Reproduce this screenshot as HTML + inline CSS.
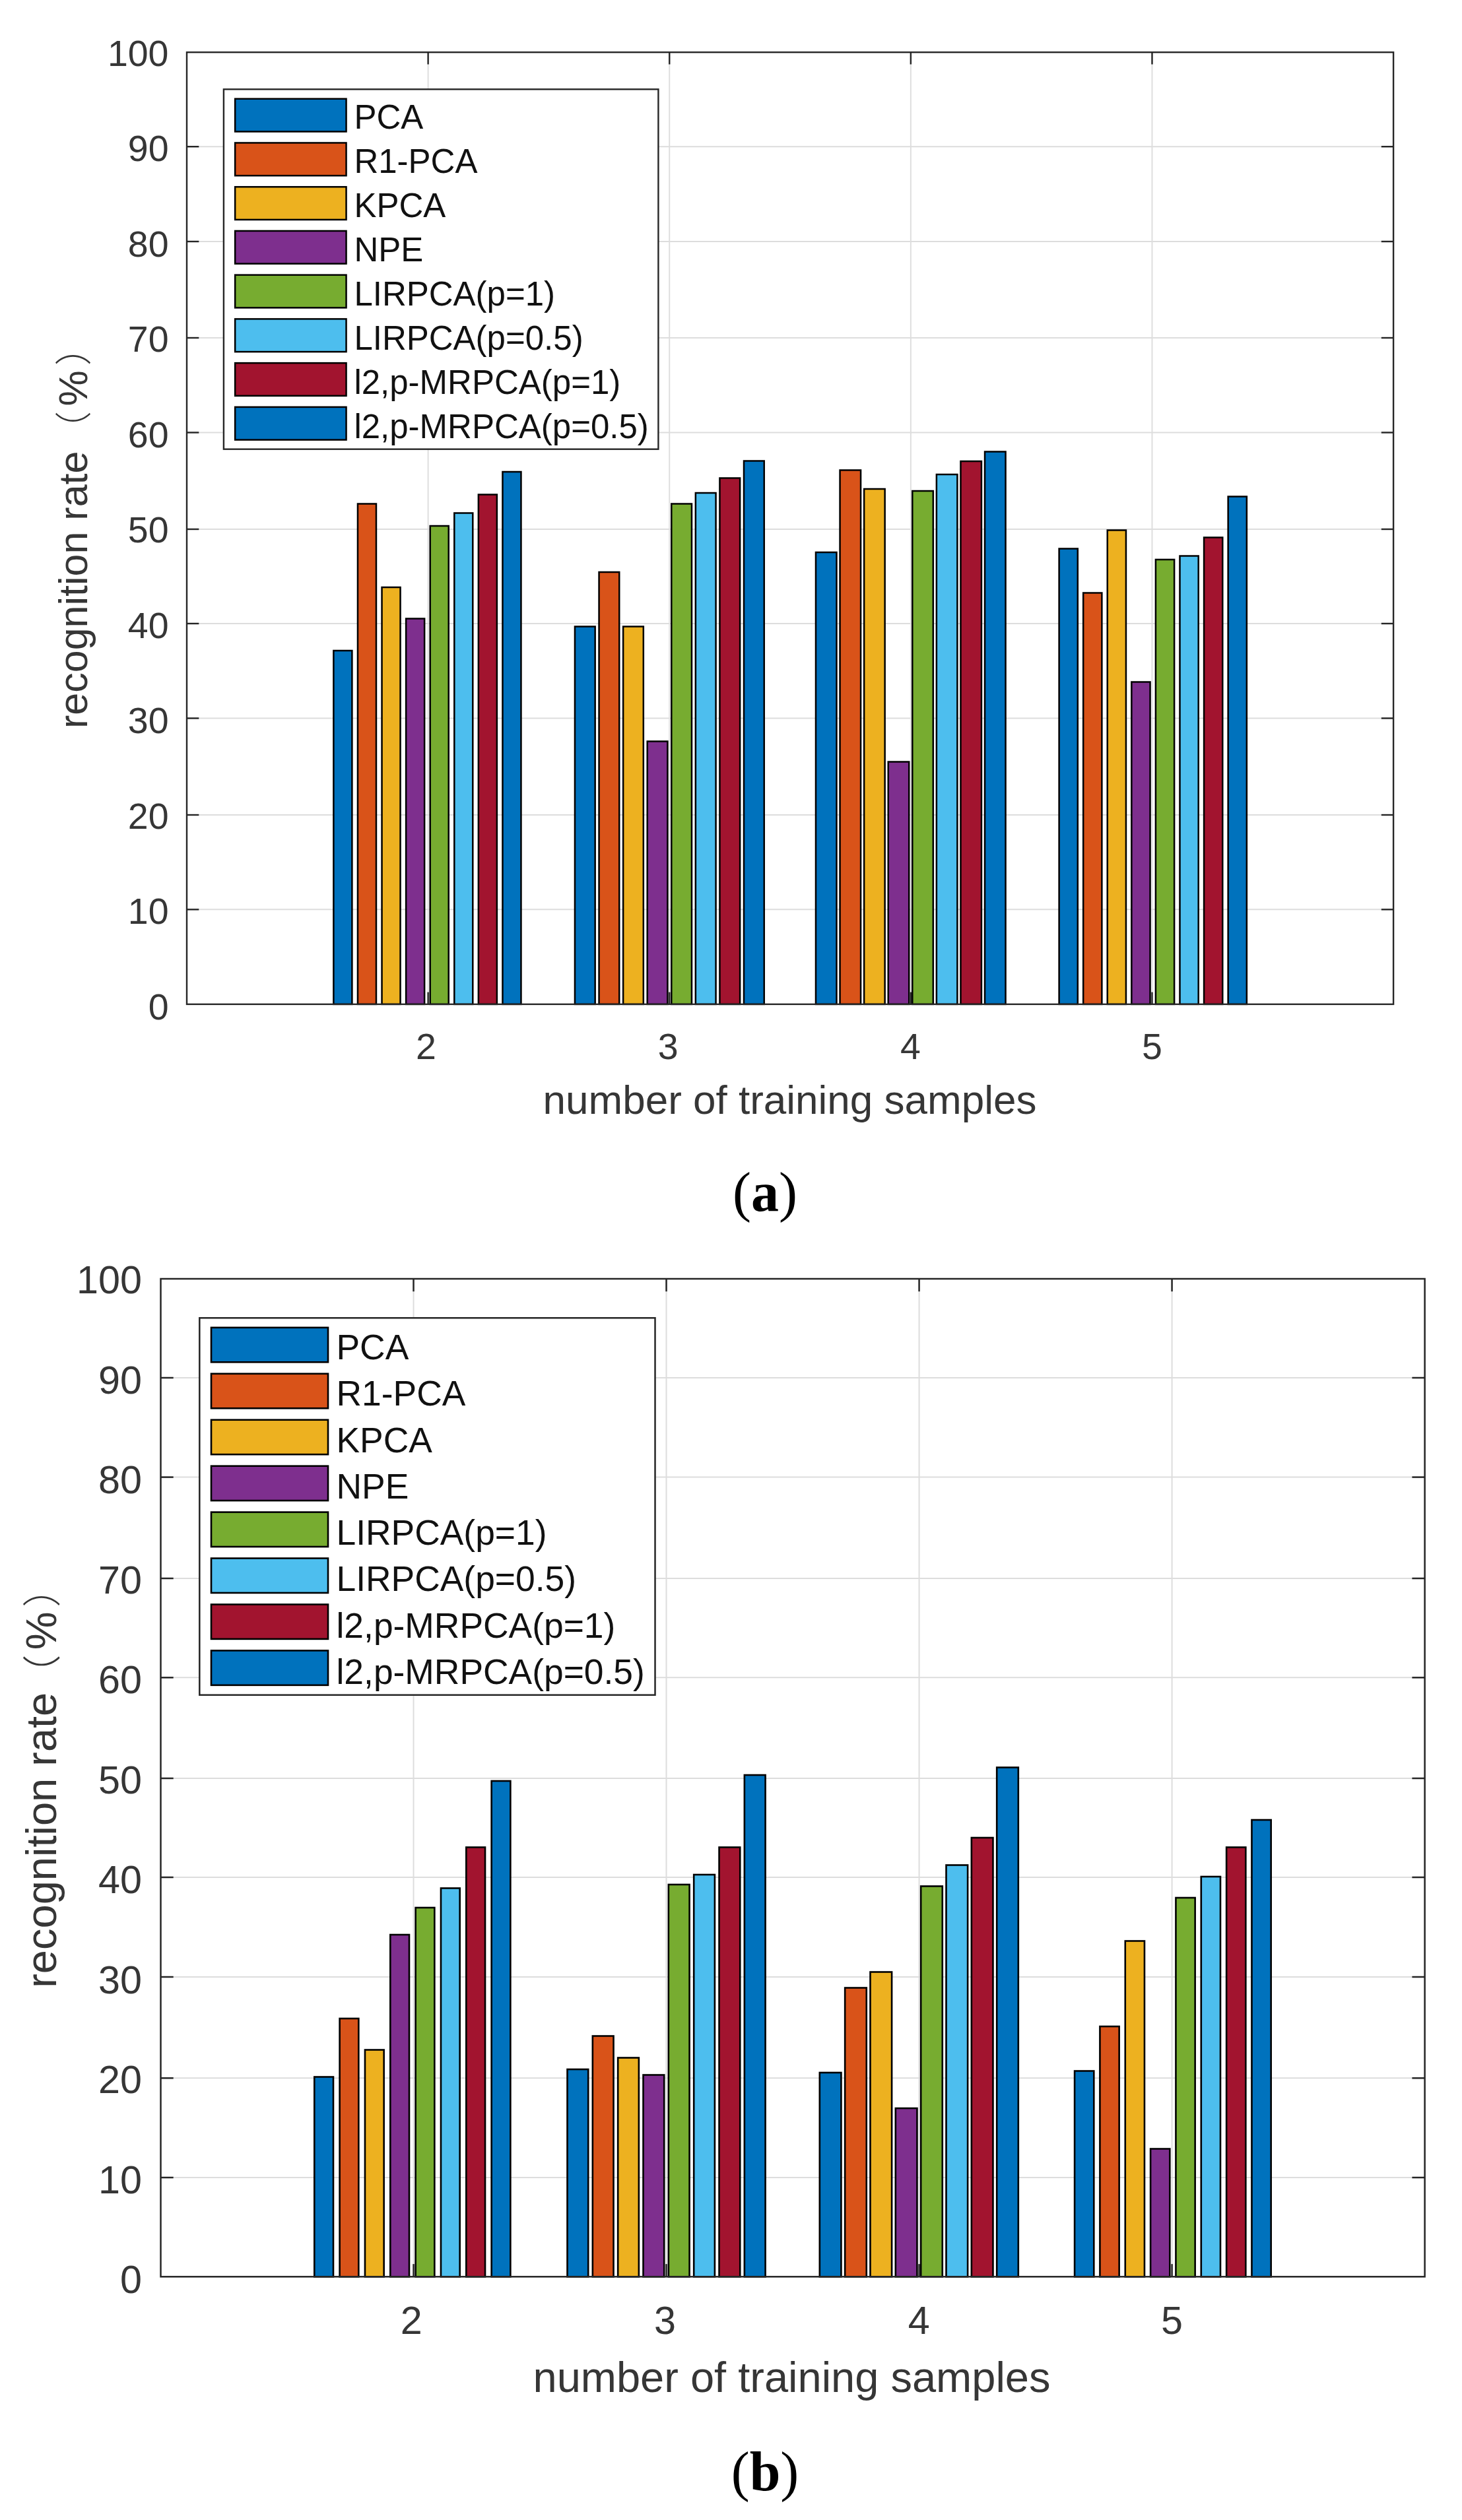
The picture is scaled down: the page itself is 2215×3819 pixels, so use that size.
<!DOCTYPE html>
<html lang="en">
<head>
<meta charset="utf-8">
<title>Recognition rate versus number of training samples</title>
<style>
html, body { margin: 0; padding: 0; background: #ffffff; }
body { width: 2215px; height: 3819px; overflow: hidden; }
svg { display: block; }
text { white-space: pre; }
</style>
</head>
<body>
<svg width="2215" height="3819" viewBox="0 0 2215 3819">
<rect x="0" y="0" width="2215" height="3819" fill="#ffffff"/>
<g id="chart-a">
<g stroke="#dddddd" stroke-width="1.9" fill="none">
<line x1="283" y1="1378.3" x2="2111.1" y2="1378.3"/>
<line x1="283" y1="1235" x2="2111.1" y2="1235"/>
<line x1="283" y1="1088.5" x2="2111.1" y2="1088.5"/>
<line x1="283" y1="945" x2="2111.1" y2="945"/>
<line x1="283" y1="802" x2="2111.1" y2="802"/>
<line x1="283" y1="655.5" x2="2111.1" y2="655.5"/>
<line x1="283" y1="512" x2="2111.1" y2="512"/>
<line x1="283" y1="366" x2="2111.1" y2="366"/>
<line x1="283" y1="222.2" x2="2111.1" y2="222.2"/>
<line x1="648.62" y1="79.2" x2="648.62" y2="1521.9"/>
<line x1="1014.24" y1="79.2" x2="1014.24" y2="1521.9"/>
<line x1="1379.86" y1="79.2" x2="1379.86" y2="1521.9"/>
<line x1="1745.48" y1="79.2" x2="1745.48" y2="1521.9"/>
</g>
<g stroke="#262626" stroke-width="2.4" fill="none">
<line x1="283" y1="1378.3" x2="301.3" y2="1378.3"/>
<line x1="2092.8" y1="1378.3" x2="2111.1" y2="1378.3"/>
<line x1="283" y1="1235" x2="301.3" y2="1235"/>
<line x1="2092.8" y1="1235" x2="2111.1" y2="1235"/>
<line x1="283" y1="1088.5" x2="301.3" y2="1088.5"/>
<line x1="2092.8" y1="1088.5" x2="2111.1" y2="1088.5"/>
<line x1="283" y1="945" x2="301.3" y2="945"/>
<line x1="2092.8" y1="945" x2="2111.1" y2="945"/>
<line x1="283" y1="802" x2="301.3" y2="802"/>
<line x1="2092.8" y1="802" x2="2111.1" y2="802"/>
<line x1="283" y1="655.5" x2="301.3" y2="655.5"/>
<line x1="2092.8" y1="655.5" x2="2111.1" y2="655.5"/>
<line x1="283" y1="512" x2="301.3" y2="512"/>
<line x1="2092.8" y1="512" x2="2111.1" y2="512"/>
<line x1="283" y1="366" x2="301.3" y2="366"/>
<line x1="2092.8" y1="366" x2="2111.1" y2="366"/>
<line x1="283" y1="222.2" x2="301.3" y2="222.2"/>
<line x1="2092.8" y1="222.2" x2="2111.1" y2="222.2"/>
<line x1="648.62" y1="79.2" x2="648.62" y2="97.5"/>
<line x1="648.62" y1="1503.6" x2="648.62" y2="1521.9"/>
<line x1="1014.24" y1="79.2" x2="1014.24" y2="97.5"/>
<line x1="1014.24" y1="1503.6" x2="1014.24" y2="1521.9"/>
<line x1="1379.86" y1="79.2" x2="1379.86" y2="97.5"/>
<line x1="1379.86" y1="1503.6" x2="1379.86" y2="1521.9"/>
<line x1="1745.48" y1="79.2" x2="1745.48" y2="97.5"/>
<line x1="1745.48" y1="1503.6" x2="1745.48" y2="1521.9"/>
</g>
<g stroke="#000" stroke-width="2.5">
<rect x="505.39" y="986" width="28" height="535.9" fill="#0072BD"/>
<rect x="541.97" y="763.5" width="28" height="758.4" fill="#D95319"/>
<rect x="578.55" y="890" width="28" height="631.9" fill="#EDB120"/>
<rect x="615.13" y="937.5" width="28" height="584.4" fill="#7E2F8E"/>
<rect x="651.71" y="797" width="28" height="724.9" fill="#77AC30"/>
<rect x="688.29" y="777.5" width="28" height="744.4" fill="#4DBEEE"/>
<rect x="724.87" y="749.5" width="28" height="772.4" fill="#A2142F"/>
<rect x="761.45" y="715" width="28" height="806.9" fill="#0072BD"/>
<rect x="870.96" y="949.5" width="30.7" height="572.4" fill="#0072BD"/>
<rect x="907.54" y="867" width="30.7" height="654.9" fill="#D95319"/>
<rect x="944.12" y="949.5" width="30.7" height="572.4" fill="#EDB120"/>
<rect x="980.7" y="1123.5" width="30.7" height="398.4" fill="#7E2F8E"/>
<rect x="1017.28" y="763.5" width="30.7" height="758.4" fill="#77AC30"/>
<rect x="1053.86" y="747" width="30.7" height="774.9" fill="#4DBEEE"/>
<rect x="1090.44" y="724.5" width="30.7" height="797.4" fill="#A2142F"/>
<rect x="1127.02" y="698.5" width="30.7" height="823.4" fill="#0072BD"/>
<rect x="1235.98" y="837" width="31.5" height="684.9" fill="#0072BD"/>
<rect x="1272.56" y="712.5" width="31.5" height="809.4" fill="#D95319"/>
<rect x="1309.14" y="741" width="31.5" height="780.9" fill="#EDB120"/>
<rect x="1345.72" y="1154.5" width="31.5" height="367.4" fill="#7E2F8E"/>
<rect x="1382.3" y="744" width="31.5" height="777.9" fill="#77AC30"/>
<rect x="1418.88" y="719" width="31.5" height="802.9" fill="#4DBEEE"/>
<rect x="1455.46" y="699" width="31.5" height="822.9" fill="#A2142F"/>
<rect x="1492.04" y="684.5" width="31.5" height="837.4" fill="#0072BD"/>
<rect x="1604.6" y="831.5" width="28.2" height="690.4" fill="#0072BD"/>
<rect x="1641.18" y="898.5" width="28.2" height="623.4" fill="#D95319"/>
<rect x="1677.76" y="803.5" width="28.2" height="718.4" fill="#EDB120"/>
<rect x="1714.34" y="1033.5" width="28.2" height="488.4" fill="#7E2F8E"/>
<rect x="1750.92" y="848" width="28.2" height="673.9" fill="#77AC30"/>
<rect x="1787.5" y="842.5" width="28.2" height="679.4" fill="#4DBEEE"/>
<rect x="1824.08" y="814.5" width="28.2" height="707.4" fill="#A2142F"/>
<rect x="1860.66" y="752.5" width="28.2" height="769.4" fill="#0072BD"/>
</g>
<rect x="283" y="79.2" width="1828.1" height="1442.7" fill="none" stroke="#262626" stroke-width="2.4"/>
<g font-family="'Liberation Sans', 'Noto Sans CJK SC', sans-serif" font-size="55.5" fill="#363636" text-anchor="end">
<text x="255.5" y="1544.5">0</text>
<text x="255.5" y="1400.01">10</text>
<text x="255.5" y="1255.52">20</text>
<text x="255.5" y="1111.03">30</text>
<text x="255.5" y="966.54">40</text>
<text x="255.5" y="822.05">50</text>
<text x="255.5" y="677.56">60</text>
<text x="255.5" y="533.07">70</text>
<text x="255.5" y="388.58">80</text>
<text x="255.5" y="244.09">90</text>
<text x="255.5" y="99.6">100</text>
</g>
<g font-family="'Liberation Sans', 'Noto Sans CJK SC', sans-serif" font-size="55.5" fill="#363636" text-anchor="middle">
<text x="645.32" y="1605.2">2</text>
<text x="1012.24" y="1605.2">3</text>
<text x="1379.46" y="1605.2">4</text>
<text x="1745.48" y="1605.2">5</text>
</g>
<text x="1196.5" y="1688.3" font-family="'Liberation Sans', 'Noto Sans CJK SC', sans-serif" font-size="62" fill="#363636" text-anchor="middle">number of training samples</text>
<text transform="translate(132 1104) rotate(-90)" font-family="'Liberation Sans', 'Noto Sans CJK SC', sans-serif" font-size="61" fill="#363636">recognition rate<tspan dx="4.5" font-size="56" font-weight="300">（</tspan><tspan dx="7.5">%</tspan><tspan dx="7.4" font-size="56" font-weight="300">）</tspan></text>
<rect x="338.9" y="135.3" width="658.5" height="545.4" fill="#fff" stroke="#262626" stroke-width="2.4"/>
<g stroke="#000" stroke-width="2.5">
<rect x="356.15" y="149.75" width="168.4" height="49.7" fill="#0072BD"/>
<rect x="356.15" y="216.48" width="168.4" height="49.7" fill="#D95319"/>
<rect x="356.15" y="283.21" width="168.4" height="49.7" fill="#EDB120"/>
<rect x="356.15" y="349.94" width="168.4" height="49.7" fill="#7E2F8E"/>
<rect x="356.15" y="416.67" width="168.4" height="49.7" fill="#77AC30"/>
<rect x="356.15" y="483.4" width="168.4" height="49.7" fill="#4DBEEE"/>
<rect x="356.15" y="550.13" width="168.4" height="49.7" fill="#A2142F"/>
<rect x="356.15" y="616.86" width="168.4" height="49.7" fill="#0072BD"/>
</g>
<g font-family="'Liberation Sans', 'Noto Sans CJK SC', sans-serif" font-size="51" fill="#111">
<text x="536.4" y="195.4">PCA</text>
<text x="536.4" y="262.4">R1-PCA</text>
<text x="536.4" y="329.4">KPCA</text>
<text x="536.4" y="396.4">NPE</text>
<text x="536.4" y="463.4">LIRPCA(p=1)</text>
<text x="536.4" y="530.4">LIRPCA(p=0.5)</text>
<text x="536.4" y="597.4">l2,p-MRPCA(p=1)</text>
<text x="536.4" y="664.4">l2,p-MRPCA(p=0.5)</text>
</g>
<text x="1159" y="1834.7" font-family="'Liberation Serif', serif" font-size="84" fill="#000" text-anchor="middle">(<tspan font-weight="bold">a</tspan>)</text>
</g>
<g id="chart-b">
<g stroke="#dddddd" stroke-width="2" fill="none">
<line x1="243.5" y1="3300" x2="2158.6" y2="3300"/>
<line x1="243.5" y1="3149.3" x2="2158.6" y2="3149.3"/>
<line x1="243.5" y1="2996" x2="2158.6" y2="2996"/>
<line x1="243.5" y1="2845" x2="2158.6" y2="2845"/>
<line x1="243.5" y1="2695" x2="2158.6" y2="2695"/>
<line x1="243.5" y1="2542.3" x2="2158.6" y2="2542.3"/>
<line x1="243.5" y1="2392" x2="2158.6" y2="2392"/>
<line x1="243.5" y1="2238.6" x2="2158.6" y2="2238.6"/>
<line x1="243.5" y1="2088" x2="2158.6" y2="2088"/>
<line x1="626.52" y1="1938" x2="626.52" y2="3450.3"/>
<line x1="1009.54" y1="1938" x2="1009.54" y2="3450.3"/>
<line x1="1392.56" y1="1938" x2="1392.56" y2="3450.3"/>
<line x1="1775.58" y1="1938" x2="1775.58" y2="3450.3"/>
</g>
<g stroke="#262626" stroke-width="2.5" fill="none">
<line x1="243.5" y1="3300" x2="262.7" y2="3300"/>
<line x1="2139.4" y1="3300" x2="2158.6" y2="3300"/>
<line x1="243.5" y1="3149.3" x2="262.7" y2="3149.3"/>
<line x1="2139.4" y1="3149.3" x2="2158.6" y2="3149.3"/>
<line x1="243.5" y1="2996" x2="262.7" y2="2996"/>
<line x1="2139.4" y1="2996" x2="2158.6" y2="2996"/>
<line x1="243.5" y1="2845" x2="262.7" y2="2845"/>
<line x1="2139.4" y1="2845" x2="2158.6" y2="2845"/>
<line x1="243.5" y1="2695" x2="262.7" y2="2695"/>
<line x1="2139.4" y1="2695" x2="2158.6" y2="2695"/>
<line x1="243.5" y1="2542.3" x2="262.7" y2="2542.3"/>
<line x1="2139.4" y1="2542.3" x2="2158.6" y2="2542.3"/>
<line x1="243.5" y1="2392" x2="262.7" y2="2392"/>
<line x1="2139.4" y1="2392" x2="2158.6" y2="2392"/>
<line x1="243.5" y1="2238.6" x2="262.7" y2="2238.6"/>
<line x1="2139.4" y1="2238.6" x2="2158.6" y2="2238.6"/>
<line x1="243.5" y1="2088" x2="262.7" y2="2088"/>
<line x1="2139.4" y1="2088" x2="2158.6" y2="2088"/>
<line x1="626.52" y1="1938" x2="626.52" y2="1957.2"/>
<line x1="626.52" y1="3431.1" x2="626.52" y2="3450.3"/>
<line x1="1009.54" y1="1938" x2="1009.54" y2="1957.2"/>
<line x1="1009.54" y1="3431.1" x2="1009.54" y2="3450.3"/>
<line x1="1392.56" y1="1938" x2="1392.56" y2="1957.2"/>
<line x1="1392.56" y1="3431.1" x2="1392.56" y2="3450.3"/>
<line x1="1775.58" y1="1938" x2="1775.58" y2="1957.2"/>
<line x1="1775.58" y1="3431.1" x2="1775.58" y2="3450.3"/>
</g>
<g stroke="#000" stroke-width="2.6">
<rect x="476.28" y="3147.5" width="28.7" height="302.8" fill="#0072BD"/>
<rect x="514.62" y="3059" width="28.7" height="391.3" fill="#D95319"/>
<rect x="552.96" y="3106.5" width="28.7" height="343.8" fill="#EDB120"/>
<rect x="591.3" y="2932" width="28.7" height="518.3" fill="#7E2F8E"/>
<rect x="629.64" y="2891" width="28.7" height="559.3" fill="#77AC30"/>
<rect x="667.98" y="2861.5" width="28.7" height="588.8" fill="#4DBEEE"/>
<rect x="706.32" y="2799.5" width="28.7" height="650.8" fill="#A2142F"/>
<rect x="744.66" y="2699" width="28.7" height="751.3" fill="#0072BD"/>
<rect x="859.5" y="3136" width="31.7" height="314.3" fill="#0072BD"/>
<rect x="897.84" y="3085.5" width="31.7" height="364.8" fill="#D95319"/>
<rect x="936.18" y="3118.5" width="31.7" height="331.8" fill="#EDB120"/>
<rect x="974.52" y="3144.5" width="31.7" height="305.8" fill="#7E2F8E"/>
<rect x="1012.86" y="2856" width="31.7" height="594.3" fill="#77AC30"/>
<rect x="1051.2" y="2841" width="31.7" height="609.3" fill="#4DBEEE"/>
<rect x="1089.54" y="2799.5" width="31.7" height="650.8" fill="#A2142F"/>
<rect x="1127.88" y="2690" width="31.7" height="760.3" fill="#0072BD"/>
<rect x="1241.82" y="3141" width="32.6" height="309.3" fill="#0072BD"/>
<rect x="1280.16" y="3012.5" width="32.6" height="437.8" fill="#D95319"/>
<rect x="1318.5" y="2988.5" width="32.6" height="461.8" fill="#EDB120"/>
<rect x="1356.84" y="3195" width="32.6" height="255.3" fill="#7E2F8E"/>
<rect x="1395.18" y="2858.5" width="32.6" height="591.8" fill="#77AC30"/>
<rect x="1433.52" y="2826.5" width="32.6" height="623.8" fill="#4DBEEE"/>
<rect x="1471.86" y="2785" width="32.6" height="665.3" fill="#A2142F"/>
<rect x="1510.2" y="2678.5" width="32.6" height="771.8" fill="#0072BD"/>
<rect x="1628.09" y="3138.5" width="29.2" height="311.8" fill="#0072BD"/>
<rect x="1666.43" y="3071" width="29.2" height="379.3" fill="#D95319"/>
<rect x="1704.77" y="2941.5" width="29.2" height="508.8" fill="#EDB120"/>
<rect x="1743.11" y="3256.5" width="29.2" height="193.8" fill="#7E2F8E"/>
<rect x="1781.45" y="2876" width="29.2" height="574.3" fill="#77AC30"/>
<rect x="1819.79" y="2844" width="29.2" height="606.3" fill="#4DBEEE"/>
<rect x="1858.13" y="2799.5" width="29.2" height="650.8" fill="#A2142F"/>
<rect x="1896.47" y="2758" width="29.2" height="692.3" fill="#0072BD"/>
</g>
<rect x="243.5" y="1938" width="1915.1" height="1512.3" fill="none" stroke="#262626" stroke-width="2.5"/>
<g font-family="'Liberation Sans', 'Noto Sans CJK SC', sans-serif" font-size="59.3" fill="#363636" text-anchor="end">
<text x="215" y="3475">0</text>
<text x="215" y="3323.5">10</text>
<text x="215" y="3172">20</text>
<text x="215" y="3020.5">30</text>
<text x="215" y="2869">40</text>
<text x="215" y="2717.5">50</text>
<text x="215" y="2566">60</text>
<text x="215" y="2414.5">70</text>
<text x="215" y="2263">80</text>
<text x="215" y="2111.5">90</text>
<text x="215" y="1960">100</text>
</g>
<g font-family="'Liberation Sans', 'Noto Sans CJK SC', sans-serif" font-size="59.3" fill="#363636" text-anchor="middle">
<text x="623.12" y="3536.6">2</text>
<text x="1007.54" y="3536.6">3</text>
<text x="1392.26" y="3536.6">4</text>
<text x="1775.58" y="3536.6">5</text>
</g>
<text x="1199.5" y="3624.7" font-family="'Liberation Sans', 'Noto Sans CJK SC', sans-serif" font-size="65" fill="#363636" text-anchor="middle">number of training samples</text>
<text transform="translate(85 3012.8) rotate(-90)" font-family="'Liberation Sans', 'Noto Sans CJK SC', sans-serif" font-size="65" fill="#363636">recognition rate<tspan dx="-1.6" font-size="58.7" font-weight="300">（</tspan><tspan dx="7.5">%</tspan><tspan dx="6.6" font-size="58.7" font-weight="300">）</tspan></text>
<rect x="302.3" y="1997.3" width="690.2" height="571.4" fill="#fff" stroke="#262626" stroke-width="2.5"/>
<g stroke="#000" stroke-width="2.6">
<rect x="320" y="2011.9" width="177" height="52.4" fill="#0072BD"/>
<rect x="320" y="2081.83" width="177" height="52.4" fill="#D95319"/>
<rect x="320" y="2151.76" width="177" height="52.4" fill="#EDB120"/>
<rect x="320" y="2221.69" width="177" height="52.4" fill="#7E2F8E"/>
<rect x="320" y="2291.62" width="177" height="52.4" fill="#77AC30"/>
<rect x="320" y="2361.55" width="177" height="52.4" fill="#4DBEEE"/>
<rect x="320" y="2431.48" width="177" height="52.4" fill="#A2142F"/>
<rect x="320" y="2501.41" width="177" height="52.4" fill="#0072BD"/>
</g>
<g font-family="'Liberation Sans', 'Noto Sans CJK SC', sans-serif" font-size="53.4" fill="#111">
<text x="509.5" y="2060">PCA</text>
<text x="509.5" y="2130.25">R1-PCA</text>
<text x="509.5" y="2200.5">KPCA</text>
<text x="509.5" y="2270.75">NPE</text>
<text x="509.5" y="2341">LIRPCA(p=1)</text>
<text x="509.5" y="2411.25">LIRPCA(p=0.5)</text>
<text x="509.5" y="2481.5">l2,p-MRPCA(p=1)</text>
<text x="509.5" y="2551.75">l2,p-MRPCA(p=0.5)</text>
</g>
<text x="1159" y="3774.1" font-family="'Liberation Serif', serif" font-size="84" fill="#000" text-anchor="middle">(<tspan font-weight="bold">b</tspan>)</text>
</g>
</svg>
</body>
</html>
